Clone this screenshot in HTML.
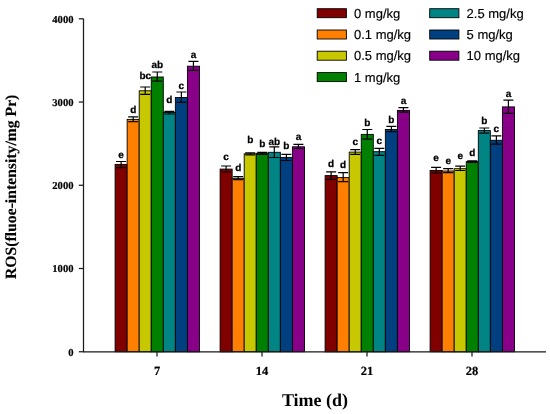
<!DOCTYPE html>
<html><head><meta charset="utf-8"><title>ROS chart</title>
<style>
html,body{margin:0;padding:0;background:#fff;}
body{width:550px;height:414px;overflow:hidden;}
svg{display:block;}
text{fill:#000;text-rendering:geometricPrecision;}
.sl{font:bold 10px "Liberation Sans",Arial,sans-serif;text-anchor:middle;stroke:#000;stroke-width:0.25px;}
.yt{font:bold 10.6px "Liberation Serif","Times New Roman",serif;text-anchor:end;stroke:#000;stroke-width:0.2px;}
.xt{font:bold 12.5px "Liberation Serif","Times New Roman",serif;text-anchor:middle;stroke:#000;stroke-width:0.2px;}
.xl{font:bold 18px "Liberation Serif","Times New Roman",serif;text-anchor:middle;}
.yl{font:bold 15.7px "Liberation Serif","Times New Roman",serif;text-anchor:middle;stroke:#000;stroke-width:0.12px;}
.lg{font:13px "Liberation Sans",Arial,sans-serif;stroke:#000;stroke-width:0.15px;}
</style></head><body>
<svg width="550" height="414" viewBox="0 0 550 414">
<rect width="550" height="414" fill="#fff"/>
<rect x="115.1" y="164.4" width="12.05" height="187.3" fill="#800000" stroke="#000" stroke-width="0.9"/>
<path d="M121.12 161.5V167.7M116.12 161.5h10M116.12 167.7h10" stroke="#000" stroke-width="1.2" fill="none"/>
<text x="121.12" y="157.5" class="sl">e</text>
<rect x="127.15" y="119.4" width="12.05" height="232.3" fill="#FF8000" stroke="#000" stroke-width="0.9"/>
<path d="M133.18 116.8V121.7M128.18 116.8h10M128.18 121.7h10" stroke="#000" stroke-width="1.2" fill="none"/>
<text x="133.18" y="112.6" class="sl">d</text>
<rect x="139.2" y="90.8" width="12.05" height="260.9" fill="#C8C800" stroke="#000" stroke-width="0.9"/>
<path d="M145.22 87V94.4M140.22 87h10M140.22 94.4h10" stroke="#000" stroke-width="1.2" fill="none"/>
<text x="145.22" y="78.5" class="sl">bc</text>
<rect x="151.25" y="77" width="12.05" height="274.8" fill="#008000" stroke="#000" stroke-width="0.9"/>
<path d="M157.28 72V81.2M152.28 72h10M152.28 81.2h10" stroke="#000" stroke-width="1.2" fill="none"/>
<text x="157.28" y="68" class="sl">ab</text>
<rect x="163.3" y="112.5" width="12.05" height="239.2" fill="#008484" stroke="#000" stroke-width="0.9"/>
<path d="M169.33 111.3V114M164.33 111.3h10M164.33 114h10" stroke="#000" stroke-width="1.2" fill="none"/>
<text x="169.33" y="103.2" class="sl">d</text>
<rect x="175.35" y="97.5" width="12.05" height="254.2" fill="#004080" stroke="#000" stroke-width="0.9"/>
<path d="M181.38 92V102.4M176.38 92h10M176.38 102.4h10" stroke="#000" stroke-width="1.2" fill="none"/>
<text x="181.38" y="88.6" class="sl">c</text>
<rect x="187.4" y="66.2" width="12.05" height="285.6" fill="#880088" stroke="#000" stroke-width="0.9"/>
<path d="M193.43 61.3V70.4M188.43 61.3h10M188.43 70.4h10" stroke="#000" stroke-width="1.2" fill="none"/>
<text x="193.43" y="57.7" class="sl">a</text>
<rect x="220.1" y="169.1" width="12.05" height="182.7" fill="#800000" stroke="#000" stroke-width="0.9"/>
<path d="M226.12 166V172M221.12 166h10M221.12 172h10" stroke="#000" stroke-width="1.2" fill="none"/>
<text x="226.12" y="159.7" class="sl">c</text>
<rect x="232.15" y="178.3" width="12.05" height="173.4" fill="#FF8000" stroke="#000" stroke-width="0.9"/>
<path d="M238.18 176.7V179.7M233.18 176.7h10M233.18 179.7h10" stroke="#000" stroke-width="1.2" fill="none"/>
<text x="238.18" y="171.2" class="sl">d</text>
<rect x="244.2" y="153.8" width="12.05" height="197.9" fill="#C8C800" stroke="#000" stroke-width="0.9"/>
<path d="M250.22 152.8V154.8M245.22 152.8h10M245.22 154.8h10" stroke="#000" stroke-width="1.2" fill="none"/>
<text x="250.22" y="142.7" class="sl">b</text>
<rect x="256.25" y="153.3" width="12.05" height="198.4" fill="#008000" stroke="#000" stroke-width="0.9"/>
<path d="M262.27 152.3V154.3M257.27 152.3h10M257.27 154.3h10" stroke="#000" stroke-width="1.2" fill="none"/>
<text x="262.27" y="146.5" class="sl">b</text>
<rect x="268.3" y="152.3" width="12.05" height="199.4" fill="#008484" stroke="#000" stroke-width="0.9"/>
<path d="M274.32 146.9V157.5M269.32 146.9h10M269.32 157.5h10" stroke="#000" stroke-width="1.2" fill="none"/>
<text x="274.32" y="145.1" class="sl">ab</text>
<rect x="280.35" y="157.4" width="12.05" height="194.3" fill="#004080" stroke="#000" stroke-width="0.9"/>
<path d="M286.38 154.4V160.5M281.38 154.4h10M281.38 160.5h10" stroke="#000" stroke-width="1.2" fill="none"/>
<text x="286.38" y="149.1" class="sl">b</text>
<rect x="292.4" y="146.8" width="12.05" height="204.9" fill="#880088" stroke="#000" stroke-width="0.9"/>
<path d="M298.42 144.4V148.5M293.42 144.4h10M293.42 148.5h10" stroke="#000" stroke-width="1.2" fill="none"/>
<text x="298.42" y="140.3" class="sl">a</text>
<rect x="325.1" y="175.6" width="12.05" height="176.2" fill="#800000" stroke="#000" stroke-width="0.9"/>
<path d="M331.12 171.8V179.4M326.12 171.8h10M326.12 179.4h10" stroke="#000" stroke-width="1.2" fill="none"/>
<text x="331.12" y="167.4" class="sl">d</text>
<rect x="337.15" y="177.6" width="12.05" height="174.2" fill="#FF8000" stroke="#000" stroke-width="0.9"/>
<path d="M343.17 172.6V181.6M338.17 172.6h10M338.17 181.6h10" stroke="#000" stroke-width="1.2" fill="none"/>
<text x="343.17" y="168.2" class="sl">d</text>
<rect x="349.2" y="152.1" width="12.05" height="199.7" fill="#C8C800" stroke="#000" stroke-width="0.9"/>
<path d="M355.22 149.6V154.3M350.22 149.6h10M350.22 154.3h10" stroke="#000" stroke-width="1.2" fill="none"/>
<text x="355.22" y="145" class="sl">c</text>
<rect x="361.25" y="134.4" width="12.05" height="217.3" fill="#008000" stroke="#000" stroke-width="0.9"/>
<path d="M367.27 129.5V139.2M362.27 129.5h10M362.27 139.2h10" stroke="#000" stroke-width="1.2" fill="none"/>
<text x="367.27" y="125.6" class="sl">b</text>
<rect x="373.3" y="151.7" width="12.05" height="200.1" fill="#008484" stroke="#000" stroke-width="0.9"/>
<path d="M379.32 148.3V155.3M374.32 148.3h10M374.32 155.3h10" stroke="#000" stroke-width="1.2" fill="none"/>
<text x="379.32" y="143.8" class="sl">c</text>
<rect x="385.35" y="129.5" width="12.05" height="222.2" fill="#004080" stroke="#000" stroke-width="0.9"/>
<path d="M391.38 126.3V131.6M386.38 126.3h10M386.38 131.6h10" stroke="#000" stroke-width="1.2" fill="none"/>
<text x="391.38" y="122.7" class="sl">b</text>
<rect x="397.4" y="110.4" width="12.05" height="241.3" fill="#880088" stroke="#000" stroke-width="0.9"/>
<path d="M403.42 107.6V112.2M398.42 107.6h10M398.42 112.2h10" stroke="#000" stroke-width="1.2" fill="none"/>
<text x="403.42" y="104.4" class="sl">a</text>
<rect x="430.1" y="170.5" width="12.05" height="181.2" fill="#800000" stroke="#000" stroke-width="0.9"/>
<path d="M436.12 167.3V173M431.12 167.3h10M431.12 173h10" stroke="#000" stroke-width="1.2" fill="none"/>
<text x="436.12" y="160.9" class="sl">e</text>
<rect x="442.15" y="171" width="12.05" height="180.8" fill="#FF8000" stroke="#000" stroke-width="0.9"/>
<path d="M448.17 168.7V172.6M443.17 168.7h10M443.17 172.6h10" stroke="#000" stroke-width="1.2" fill="none"/>
<text x="448.17" y="163.6" class="sl">e</text>
<rect x="454.2" y="168.7" width="12.05" height="183.1" fill="#C8C800" stroke="#000" stroke-width="0.9"/>
<path d="M460.22 166.1V170.5M455.22 166.1h10M455.22 170.5h10" stroke="#000" stroke-width="1.2" fill="none"/>
<text x="460.22" y="158.6" class="sl">e</text>
<rect x="466.25" y="161.6" width="12.05" height="190.2" fill="#008000" stroke="#000" stroke-width="0.9"/>
<path d="M472.27 160.8V162.4M467.27 160.8h10M467.27 162.4h10" stroke="#000" stroke-width="1.2" fill="none"/>
<text x="472.27" y="156.4" class="sl">d</text>
<rect x="478.3" y="130.6" width="12.05" height="221.2" fill="#008484" stroke="#000" stroke-width="0.9"/>
<path d="M484.32 128V133.1M479.32 128h10M479.32 133.1h10" stroke="#000" stroke-width="1.2" fill="none"/>
<text x="484.32" y="123.6" class="sl">b</text>
<rect x="490.35" y="140.3" width="12.05" height="211.4" fill="#004080" stroke="#000" stroke-width="0.9"/>
<path d="M496.38 135.9V144.2M491.38 135.9h10M491.38 144.2h10" stroke="#000" stroke-width="1.2" fill="none"/>
<text x="496.38" y="132.3" class="sl">c</text>
<rect x="502.4" y="106.9" width="12.05" height="244.8" fill="#880088" stroke="#000" stroke-width="0.9"/>
<path d="M508.42 100.2V113.3M503.42 100.2h10M503.42 113.3h10" stroke="#000" stroke-width="1.2" fill="none"/>
<text x="508.42" y="97.1" class="sl">a</text>
<path d="M83.5 18.8V351.75H546" stroke="#1a1a1a" stroke-width="1.25" fill="none"/>
<path d="M78.8 351.75H83.5" stroke="#1a1a1a" stroke-width="1.25"/>
<text x="73.5" y="355.55" class="yt">0</text>
<path d="M78.8 268.51H83.5" stroke="#1a1a1a" stroke-width="1.25"/>
<text x="73.5" y="272.31" class="yt">1000</text>
<path d="M78.8 185.28H83.5" stroke="#1a1a1a" stroke-width="1.25"/>
<text x="73.5" y="189.08" class="yt">2000</text>
<path d="M78.8 102.04H83.5" stroke="#1a1a1a" stroke-width="1.25"/>
<text x="73.5" y="105.84" class="yt">3000</text>
<path d="M78.8 18.80H83.5" stroke="#1a1a1a" stroke-width="1.25"/>
<text x="73.5" y="22.60" class="yt">4000</text>
<path d="M157 351.75V356.55" stroke="#1a1a1a" stroke-width="1.25"/>
<text x="157" y="374.7" class="xt">7</text>
<path d="M262 351.75V356.55" stroke="#1a1a1a" stroke-width="1.25"/>
<text x="262" y="374.7" class="xt">14</text>
<path d="M367 351.75V356.55" stroke="#1a1a1a" stroke-width="1.25"/>
<text x="367" y="374.7" class="xt">21</text>
<path d="M472 351.75V356.55" stroke="#1a1a1a" stroke-width="1.25"/>
<text x="472" y="374.7" class="xt">28</text>
<text x="315" y="405.8" class="xl">Time (d)</text>
<text transform="translate(16.3 186.8) rotate(-90)" class="yl">ROS(fluoe-intensity/mg Pr)</text>
<rect x="317.2" y="8.7" width="29.2" height="9" fill="#800000" stroke="#000" stroke-width="0.9"/>
<text x="354" y="17.60" class="lg">0 mg/kg</text>
<rect x="317.2" y="30.0" width="29.2" height="9" fill="#FF8000" stroke="#000" stroke-width="0.9"/>
<text x="354" y="38.90" class="lg">0.1 mg/kg</text>
<rect x="317.2" y="51.2" width="29.2" height="9" fill="#C8C800" stroke="#000" stroke-width="0.9"/>
<text x="354" y="60.20" class="lg">0.5 mg/kg</text>
<rect x="317.2" y="72.6" width="29.2" height="9" fill="#008000" stroke="#000" stroke-width="0.9"/>
<text x="354" y="81.50" class="lg">1 mg/kg</text>
<rect x="429.7" y="8.7" width="29.2" height="9" fill="#008484" stroke="#000" stroke-width="0.9"/>
<text x="466.6" y="17.60" class="lg">2.5 mg/kg</text>
<rect x="429.7" y="30.0" width="29.2" height="9" fill="#004080" stroke="#000" stroke-width="0.9"/>
<text x="466.6" y="38.90" class="lg">5 mg/kg</text>
<rect x="429.7" y="51.2" width="29.2" height="9" fill="#880088" stroke="#000" stroke-width="0.9"/>
<text x="466.6" y="60.20" class="lg">10 mg/kg</text>
</svg>
</body></html>
